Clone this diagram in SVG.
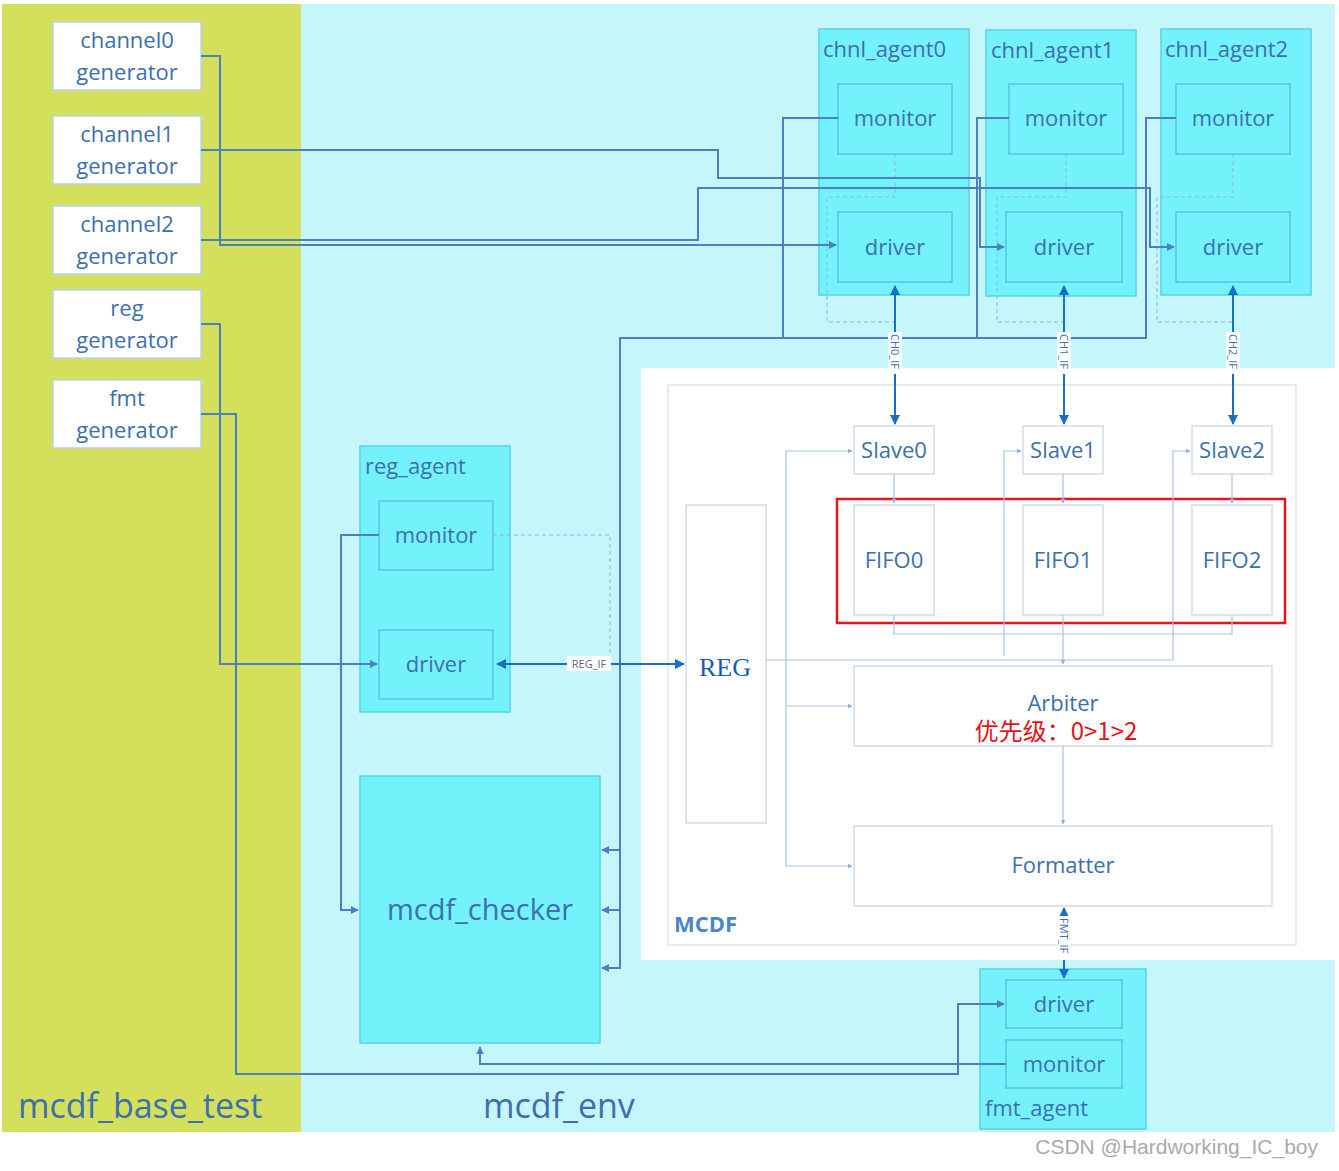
<svg xmlns="http://www.w3.org/2000/svg" width="1339" height="1171" viewBox="0 0 1339 1171">
<defs>
<marker id="a" viewBox="0 0 10 10" refX="9" refY="5" markerWidth="4" markerHeight="4" orient="auto-start-reverse"><path d="M0,0 L10,5 L0,10 z" fill="#4a7fc0"/></marker>
<marker id="b" viewBox="0 0 10 10" refX="9" refY="5" markerWidth="5" markerHeight="5" orient="auto-start-reverse"><path d="M0,0 L10,5 L0,10 z" fill="#1a6fc4"/></marker>
<marker id="c" viewBox="0 0 10 10" refX="9" refY="5" markerWidth="4" markerHeight="4" orient="auto"><path d="M0,0 L10,5 L0,10 z" fill="#8fb0d8"/></marker>
<style>
text{font-family:"Open Sans","Noto Sans",sans-serif;fill:#3d6fae}
.g{fill:#fff;stroke:#b9d3ea;stroke-width:1.5}
.ag{fill:#74f2fc;stroke:#5ad0e8;stroke-width:1.5}
.bx{fill:none;stroke:#5ac3dc;stroke-width:1.5}
.m{fill:#fff;stroke:#cfdcec;stroke-width:1.5}
.w{fill:none;stroke:#4a7fc0;stroke-width:2}
.ifl{fill:none;stroke:#1a6fc4;stroke-width:2}
.t{fill:none;stroke:#a8c3e3;stroke-width:1.2}
.d{fill:none;stroke:#8fb7d8;stroke-width:1;stroke-dasharray:4 3}
.l{font-size:22px;text-anchor:middle}
</style>
</defs>
<rect x="2" y="4" width="299" height="1128" fill="#d4e05b"/>
<rect x="301" y="4" width="1034" height="1128" fill="#c4f6fc"/>
<rect x="641" y="368" width="694" height="592" fill="#fff"/>
<rect x="668" y="385" width="628" height="560" fill="none" stroke="#dde7f1" stroke-width="1.5"/>
<g id="gen0"><rect class="g" x="53" y="22" width="148" height="68"/><text class="l" x="127" y="48">channel0</text><text class="l" x="127" y="80">generator</text></g>
<g id="gen1"><rect class="g" x="53" y="116" width="148" height="68"/><text class="l" x="127" y="142">channel1</text><text class="l" x="127" y="174">generator</text></g>
<g id="gen2"><rect class="g" x="53" y="206" width="148" height="68"/><text class="l" x="127" y="232">channel2</text><text class="l" x="127" y="264">generator</text></g>
<g id="genr"><rect class="g" x="53" y="290" width="148" height="68"/><text class="l" x="127" y="316">reg</text><text class="l" x="127" y="348">generator</text></g>
<g id="genf"><rect class="g" x="53" y="380" width="148" height="68"/><text class="l" x="127" y="406">fmt</text><text class="l" x="127" y="438">generator</text></g>
<g id="ca0"><rect class="ag" x="819" y="29" width="150" height="266"/><text x="823" y="57" font-size="22">chnl_agent0</text><rect class="bx" x="838" y="84" width="114" height="70"/><text class="l" x="895" y="126">monitor</text><rect class="bx" x="838" y="212" width="114" height="70"/><text class="l" x="895" y="255">driver</text></g>
<g id="ca1"><rect class="ag" x="986" y="30" width="150" height="266"/><text x="991" y="58" font-size="22">chnl_agent1</text><rect class="bx" x="1009" y="84" width="114" height="70"/><text class="l" x="1066" y="126">monitor</text><rect class="bx" x="1006" y="212" width="116" height="70"/><text class="l" x="1064" y="255">driver</text></g>
<g id="ca2"><rect class="ag" x="1161" y="29" width="150" height="266"/><text x="1165" y="57" font-size="22">chnl_agent2</text><rect class="bx" x="1176" y="84" width="114" height="70"/><text class="l" x="1233" y="126">monitor</text><rect class="bx" x="1176" y="212" width="114" height="70"/><text class="l" x="1233" y="255">driver</text></g>
<g id="ra"><rect class="ag" x="360" y="446" width="150" height="266"/><text x="365" y="474" font-size="22">reg_agent</text><rect class="bx" x="379" y="501" width="114" height="69"/><text class="l" x="436" y="543">monitor</text><rect class="bx" x="379" y="630" width="114" height="69"/><text class="l" x="436" y="672">driver</text></g>
<g id="chk"><rect class="ag" x="360" y="776" width="240" height="267"/><text x="480" y="920" font-size="29" text-anchor="middle">mcdf_checker</text></g>
<g id="fa"><rect class="ag" x="980" y="969" width="166" height="160"/><rect class="bx" x="1006" y="980" width="116" height="48"/><text class="l" x="1064" y="1012">driver</text><rect class="bx" x="1006" y="1040" width="116" height="48"/><text class="l" x="1064" y="1072">monitor</text><text x="985" y="1116" font-size="22">fmt_agent</text></g>
<g id="mcdf">
<rect class="m" x="854" y="426" width="80" height="48"/><text class="l" x="894" y="458">Slave0</text>
<rect class="m" x="1023" y="426" width="80" height="48"/><text class="l" x="1063" y="458">Slave1</text>
<rect class="m" x="1192" y="426" width="80" height="48"/><text class="l" x="1232" y="458">Slave2</text>
<rect class="m" x="854" y="505" width="80" height="110"/><text class="l" x="894" y="568">FIFO0</text>
<rect class="m" x="1023" y="505" width="80" height="110"/><text class="l" x="1063" y="568">FIFO1</text>
<rect class="m" x="1192" y="505" width="80" height="110"/><text class="l" x="1232" y="568">FIFO2</text>
<rect class="m" x="686" y="505" width="80" height="318"/><text x="725" y="676" font-size="26" text-anchor="middle" style="font-family:'Liberation Serif',serif;fill:#1a5cb0">REG</text>
<rect class="m" x="854" y="666" width="418" height="80"/><text class="l" x="1063" y="711">Arbiter</text>
<text x="1056" y="740" font-size="24" text-anchor="middle" style="fill:#e8121a;font-family:'Noto Sans CJK SC',sans-serif">优先级：0&gt;1&gt;2</text>
<rect class="m" x="854" y="826" width="418" height="80"/><text class="l" x="1063" y="873">Formatter</text>
<text x="674" y="932" font-size="22" font-weight="bold" style="fill:#4a86c8">MCDF</text>
</g>
<rect x="837" y="499" width="448" height="124" fill="none" stroke="#e8121a" stroke-width="2.5"/>
<g id="connectors">
<path class="d" d="M895 154V197H827V322H895M1066 154V197H997V322H1064M1233 154V197H1157V322H1233M493 535H610V664"/>
<path class="w" d="M201 56H220V245H836" marker-end="url(#a)"/>
<path class="w" d="M201 150H718V178H980V247H1004" marker-end="url(#a)"/>
<path class="w" d="M201 240H698V188H1150V247H1174" marker-end="url(#a)"/>
<path class="w" d="M201 324H220V664H377" marker-end="url(#a)"/>
<path class="w" d="M201 414H236V1074H958V1004H1004" marker-end="url(#a)"/>
<path class="w" d="M838 118H783V338M1009 118H977V338M1176 118H1146V338H620V968H602" marker-end="url(#a)"/>
<path class="w" d="M620 850H602" marker-end="url(#a)"/>
<path class="w" d="M620 910H602" marker-end="url(#a)"/>
<path class="w" d="M379 535H341V910H358" marker-end="url(#a)"/>
<path class="w" d="M1006 1064H480V1047" marker-end="url(#a)"/>
<path class="ifl" d="M497 664H684" marker-start="url(#b)" marker-end="url(#b)"/>
<path class="ifl" d="M895 286V424" marker-start="url(#b)" marker-end="url(#b)"/>
<path class="ifl" d="M1064 286V424" marker-start="url(#b)" marker-end="url(#b)"/>
<path class="ifl" d="M1233 286V424" marker-start="url(#b)" marker-end="url(#b)"/>
<path class="ifl" d="M1064 908V978" marker-start="url(#b)" marker-end="url(#b)"/>
<path class="t" d="M766 660H1173V451H1190" marker-end="url(#c)"/>
<path class="t" d="M1004 656V451H1021" marker-end="url(#c)"/>
<path class="t" d="M786 660V451H852" marker-end="url(#c)"/>
<path class="t" d="M786 660V706H852" marker-end="url(#c)"/>
<path class="t" d="M786 706V866H852" marker-end="url(#c)"/>
<path class="t" d="M894 474V503" marker-end="url(#c)"/>
<path class="t" d="M1063 474V503" marker-end="url(#c)"/>
<path class="t" d="M1232 474V503" marker-end="url(#c)"/>
<path class="t" d="M894 615V634H1232V615"/>
<path class="t" d="M1063 615V664" marker-end="url(#c)"/>
<path class="t" d="M1063 746V824" marker-end="url(#c)"/>
<rect x="567" y="656" width="44" height="15" fill="#fff"/><text x="589" y="668" font-size="11" text-anchor="middle" style="fill:#667">REG_IF</text>
<g font-size="11" style="fill:#667"><rect x="888" y="332" width="14" height="42" fill="#fff"/><text transform="translate(891,334) rotate(90)">CH0_IF</text>
<rect x="1057" y="332" width="14" height="42" fill="#fff"/><text transform="translate(1060,334) rotate(90)">CH1_IF</text>
<rect x="1226" y="332" width="14" height="42" fill="#fff"/><text transform="translate(1229,334) rotate(90)">CH2_IF</text>
<rect x="1057" y="916" width="14" height="44" fill="#fff"/><text transform="translate(1060,918) rotate(90)">FMT_IF</text></g>
</g>
<text x="18" y="1118" font-size="34">mcdf_base_test</text>
<text x="483" y="1118" font-size="34">mcdf_env</text>
<text x="1318" y="1154" font-size="21" text-anchor="end" style="fill:#aaa;font-family:'Liberation Sans',sans-serif">CSDN @Hardworking_IC_boy</text>
</svg>
